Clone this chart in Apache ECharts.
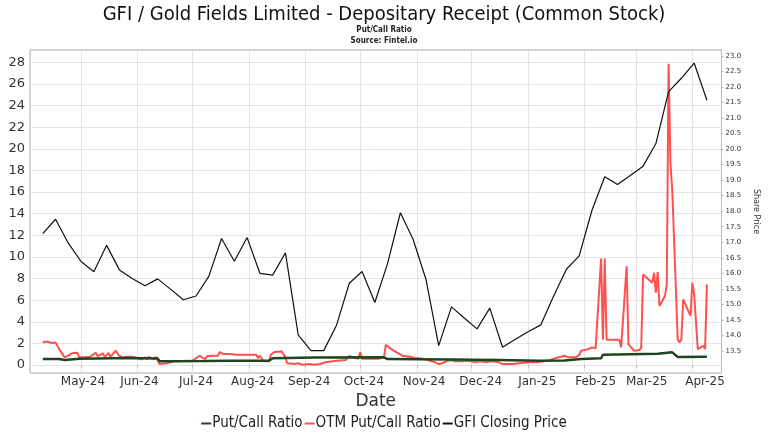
<!DOCTYPE html>
<html>
<head>
<meta charset="utf-8">
<script src="https://cdn.jsdelivr.net/npm/echarts@6/dist/echarts.min.js"></script>
<style>
  html, body { margin: 0; padding: 0; background: #fff; }
  #chart { width: 768px; height: 432px; }
</style>
</head>
<body>
<div id="chart"></div>
<script>
// GFI weekly closing price (right axis)
var priceDates = ['2024-04-10','2024-04-17','2024-04-24','2024-05-01','2024-05-08','2024-05-15','2024-05-22','2024-05-29',
  '2024-06-05','2024-06-12','2024-06-19','2024-06-26','2024-07-03','2024-07-10','2024-07-17','2024-07-24','2024-07-31',
  '2024-08-07','2024-08-14','2024-08-21','2024-08-28','2024-09-04','2024-09-11','2024-09-18','2024-09-25',
  '2024-10-02','2024-10-09','2024-10-16','2024-10-23','2024-10-30','2024-11-06','2024-11-13','2024-11-20','2024-11-27',
  '2024-12-04','2024-12-11','2024-12-18','2024-12-25','2025-01-01','2025-01-08','2025-01-15','2025-01-22','2025-01-29',
  '2025-02-05','2025-02-12','2025-02-19','2025-02-26','2025-03-05','2025-03-12','2025-03-19','2025-03-26','2025-04-02','2025-04-09'];
var priceValues = [17.28, 17.74, 16.97, 16.38, 16.05, 16.90, 16.11, 15.83,
  15.60, 15.82, 15.49, 15.15, 15.27, 15.90, 17.12, 16.39, 17.15,
  16.00, 15.94, 16.66, 14.02, 13.51, 13.51, 14.33, 15.68,
  16.06, 15.06, 16.32, 17.95, 17.09, 15.81, 13.67, 14.92, 14.56,
  14.21, 14.88, 13.62, 13.88, 14.12, 14.34, 15.27, 16.13, 16.56,
  18.03, 19.11, 18.86, 19.15, 19.45, 20.17, 21.85, 22.28, 22.77, 21.57];

// OTM put/call ratio (left axis)
var otmDates = ['2024-04-10','2024-04-12','2024-04-15','2024-04-17','2024-04-19','2024-04-22','2024-04-24','2024-04-26','2024-04-29','2024-04-30',
  '2024-05-03','2024-05-06','2024-05-09','2024-05-10','2024-05-13','2024-05-14','2024-05-16','2024-05-17','2024-05-20','2024-05-22','2024-05-24','2024-05-28','2024-05-30',
  '2024-06-03','2024-06-05','2024-06-06','2024-06-07','2024-06-10','2024-06-11','2024-06-12','2024-06-13','2024-06-17','2024-06-19','2024-06-21','2024-06-24','2024-06-27',
  '2024-07-01','2024-07-02','2024-07-05','2024-07-08','2024-07-09','2024-07-12','2024-07-15','2024-07-16','2024-07-18','2024-07-22','2024-07-23','2024-07-25','2024-07-29','2024-07-30',
  '2024-08-01','2024-08-02','2024-08-05','2024-08-06','2024-08-07','2024-08-09','2024-08-12','2024-08-13','2024-08-15','2024-08-19','2024-08-21','2024-08-22','2024-08-26','2024-08-28','2024-08-30',
  '2024-09-03','2024-09-06','2024-09-09','2024-09-12','2024-09-16','2024-09-18','2024-09-19','2024-09-23','2024-09-25','2024-09-27','2024-09-30',
  '2024-10-01','2024-10-02','2024-10-04','2024-10-08','2024-10-11','2024-10-14','2024-10-15','2024-10-18','2024-10-21','2024-10-24','2024-10-28','2024-10-29','2024-10-31',
  '2024-11-04','2024-11-07','2024-11-11','2024-11-13','2024-11-15','2024-11-18','2024-11-20','2024-11-22','2024-11-26','2024-11-29',
  '2024-12-03','2024-12-05','2024-12-09','2024-12-12','2024-12-16','2024-12-18','2024-12-20','2024-12-24','2024-12-27',
  '2025-01-02','2025-01-06','2025-01-07','2025-01-13','2025-01-16','2025-01-21','2025-01-23','2025-01-24','2025-01-27','2025-01-29','2025-01-30',
  '2025-02-03','2025-02-05','2025-02-06','2025-02-07','2025-02-10','2025-02-11','2025-02-12','2025-02-13','2025-02-14','2025-02-18','2025-02-20','2025-02-21','2025-02-24','2025-02-25','2025-02-26','2025-02-28',
  '2025-03-03','2025-03-04','2025-03-05','2025-03-06','2025-03-10','2025-03-11','2025-03-12','2025-03-13','2025-03-14','2025-03-17','2025-03-18','2025-03-19','2025-03-20','2025-03-21',
  '2025-03-24','2025-03-25','2025-03-26','2025-03-27','2025-03-31','2025-04-01','2025-04-02','2025-04-03','2025-04-04','2025-04-07','2025-04-08','2025-04-09'];
var otmValues = [2.09, 2.18, 2.03, 2.09, 1.47, 0.71, 0.86, 1.08, 1.13, 0.71,
  0.71, 0.76, 1.13, 0.83, 1.08, 0.71, 1.13, 0.76, 1.32, 0.83, 0.71, 0.76, 0.71,
  0.52, 0.71, 0.52, 0.76, 0.52, 0.76, 0.58, 0.09, 0.16, 0.25, 0.34, 0.34, 0.40,
  0.40, 0.46, 0.86, 0.52, 0.80, 0.86, 0.86, 1.20, 1.01, 1.01, 0.86, 0.95, 0.95, 1.13,
  0.95, 0.86, 0.95, 0.64, 0.86, 0.34, 0.34, 0.95, 1.20, 1.26, 0.71, 0.16, 0.09, 0.16, 0.03,
  0.09, 0.03, 0.09, 0.25, 0.34, 0.40, 0.52, 0.46, 0.83, 0.71, 0.58,
  1.20, 0.58, 0.58, 0.58, 0.58, 0.71, 1.87, 1.47, 1.17, 0.86, 0.76, 0.71, 0.64,
  0.58, 0.46, 0.25, 0.09, 0.16, 0.40, 0.46, 0.34, 0.34, 0.40,
  0.25, 0.34, 0.25, 0.34, 0.25, 0.09, 0.09, 0.09, 0.16,
  0.25, 0.25, 0.34, 0.46, 0.62, 0.86, 0.71, 0.86, 0.71, 0.92, 1.32,
  1.47, 1.63, 1.72, 1.54, 9.85, 2.33, 9.85, 2.33, 2.33, 2.33, 2.33, 1.63, 9.14, 1.93, 1.78, 1.32,
  1.38, 1.63, 8.38, 8.47, 7.62, 8.54, 6.69, 8.59, 5.46, 6.38, 7.46, 27.87, 18.66, 16.20,
  2.39, 2.09, 2.39, 6.08, 4.54, 7.62, 6.54, 6.54, 1.47, 1.78, 1.47, 7.46];

// Put/call ratio (left axis)
var pcrDates = ['2024-04-10','2024-04-19','2024-04-22','2024-04-30','2024-05-28','2024-06-12','2024-06-13','2024-07-09','2024-07-22',
  '2024-08-12','2024-08-14','2024-09-06','2024-10-14','2024-10-16','2024-11-20','2024-12-16','2025-01-07','2025-01-21','2025-01-30',
  '2025-02-10','2025-02-11','2025-03-13','2025-03-14','2025-03-21','2025-03-24','2025-04-09'];
var pcrValues = [0.55, 0.55, 0.46, 0.58, 0.64, 0.60, 0.34, 0.36, 0.40,
  0.40, 0.62, 0.70, 0.71, 0.55, 0.52, 0.46, 0.40, 0.42, 0.55,
  0.62, 0.95, 1.05, 1.20, 1.17, 0.74, 0.76];

var leftTicks = [0, 2, 4, 6, 8, 10, 12, 14, 16, 18, 20, 22, 24, 26, 28];
var rightTicks = [13.5, 14.0, 14.5, 15.0, 15.5, 16.0, 16.5, 17.0, 17.5, 18.0, 18.5, 19.0, 19.5, 20.0, 20.5, 21.0, 21.5, 22.0, 22.5, 23.0];
// grid lines sit on month starts; the month labels are drawn a little later
var monthTicks = ['2024-05-01','2024-06-01','2024-07-01','2024-08-01','2024-09-01','2024-10-01',
  '2024-11-01','2024-12-01','2025-01-01','2025-02-01','2025-03-01','2025-04-01'];
var monthLabelAt = ['2024-05-02','2024-06-02','2024-07-03','2024-08-03','2024-09-03','2024-10-03',
  '2024-11-05','2024-12-06','2025-01-06','2025-02-07','2025-03-07','2025-04-08'];
var monthNames = ['Jan','Feb','Mar','Apr','May','Jun','Jul','Aug','Sep','Oct','Nov','Dec'];

function toTime(s) {
  var p = s.split('-');
  return new Date(+p[0], +p[1] - 1, +p[2]).getTime();
}
function pairs(dates, values) {
  return dates.map(function (d, i) { return [toTime(d), values[i]]; });
}

var FONT = 'DejaVu Sans';
var COND = '"DejaVu Sans Condensed", "DejaVu Sans"';
var monthTimes = monthTicks.map(toTime);
var labelTimes = monthLabelAt.map(toTime);

var option = {
  animation: false,
  backgroundColor: '#fff',
  title: {
    text: 'GFI / Gold Fields Limited - Depositary Receipt (Common Stock)',
    subtext: 'Put/Call Ratio\nSource: Fintel.io',
    left: 'center',
    top: 0,
    itemGap: -1,
    textStyle: {fontFamily: COND, fontSize: 20, fontWeight: 'normal', color: '#111'},
    subtextStyle: {fontFamily: COND, fontSize: 8, fontWeight: 'bold', color: '#222', lineHeight: 11}
  },
  legend: {
    top: 411,
    left: 'center',
    itemWidth: 10,
    itemHeight: 2,
    itemGap: 2,
    icon: 'rect',
    textStyle: {fontFamily: COND, fontSize: 15, color: '#222', padding: [0, 0, 0, -4]},
    data: ['Put/Call Ratio', 'OTM Put/Call Ratio', 'GFI Closing Price']
  },
  grid: {
    left: 30,
    right: 39,
    top: 50,
    bottom: 59,
    show: true,
    borderColor: '#aaa',
    borderWidth: 1
  },
  xAxis: {
    type: 'value',
    min: toTime('2024-04-03'),
    max: toTime('2025-04-17'),
    name: 'Date',
    nameLocation: 'middle',
    nameGap: 17,
    nameTextStyle: {fontFamily: FONT, fontSize: 17, color: '#333'},
    axisLine: {show: false},
    axisTick: {show: true, customValues: monthTimes, length: 3, lineStyle: {color: '#bbb'}},
    axisLabel: {
      customValues: labelTimes,
      margin: 3,
      fontFamily: FONT,
      fontSize: 12,
      color: '#333',
      formatter: function (v) {
        var d = new Date(v);
        return monthNames[d.getMonth()] + '-' + String(d.getFullYear()).slice(2);
      }
    },
    splitLine: {show: true, lineStyle: {color: '#e4e4e4', width: 1}}
  },
  yAxis: [
    {
      type: 'value',
      position: 'left',
      min: -0.74,
      max: 29.15,
      axisLine: {show: false},
      axisTick: {show: false, customValues: leftTicks},
      axisLabel: {customValues: leftTicks, margin: 5, fontFamily: FONT, fontSize: 13, color: '#333'},
      splitLine: {show: true, lineStyle: {color: '#e4e4e4', width: 1}}
    },
    {
      type: 'value',
      position: 'right',
      min: 12.79,
      max: 23.19,
      name: 'Share Price',
      nameLocation: 'middle',
      nameRotate: -90,
      nameGap: 26,
      nameTextStyle: {fontFamily: FONT, fontSize: 8, color: '#333'},
      axisLine: {show: true, lineStyle: {color: '#bbb'}},
      axisTick: {show: true, customValues: rightTicks, length: 2, lineStyle: {color: '#bbb'}},
      axisLabel: {
        customValues: rightTicks,
        margin: 4,
        fontFamily: FONT,
        fontSize: 7,
        color: '#333',
        formatter: function (v) { return v.toFixed(1); }
      },
      splitLine: {show: false}
    }
  ],
  series: [
    {
      name: 'Put/Call Ratio',
      type: 'line',
      yAxisIndex: 0,
      showSymbol: false,
      color: '#1d4620',
      lineStyle: {width: 2.5, color: '#1d4620'},
      data: pairs(pcrDates, pcrValues),
      z: 3
    },
    {
      name: 'OTM Put/Call Ratio',
      type: 'line',
      yAxisIndex: 0,
      showSymbol: false,
      color: '#ff5050',
      lineStyle: {width: 2, color: '#ff5050'},
      data: pairs(otmDates, otmValues),
      z: 2
    },
    {
      name: 'GFI Closing Price',
      type: 'line',
      yAxisIndex: 1,
      showSymbol: false,
      color: '#111',
      lineStyle: {width: 1.2, color: '#111'},
      data: pairs(priceDates, priceValues),
      z: 4
    }
  ]
};

var chart = echarts.init(document.getElementById('chart'));
chart.setOption(option);
</script>
</body>
</html>
